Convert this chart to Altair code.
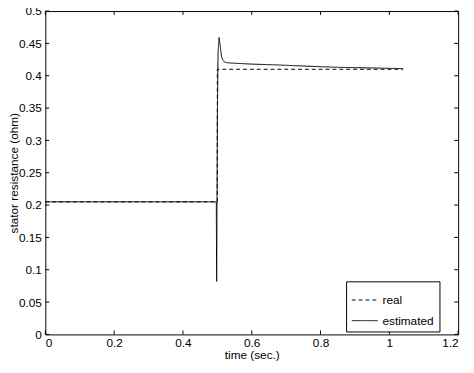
import altair as alt
import pandas as pd

# Data
real_t = [0.0, 0.5, 0.5, 1.04]
real_r = [0.205, 0.205, 0.41, 0.41]

est_t = [0.0, 0.497, 0.498, 0.499, 0.500, 0.502, 0.505, 0.508, 0.512, 0.516, 0.522,
         0.53, 0.56, 0.60, 0.66, 0.75, 0.85, 0.95, 1.04]
est_r = [0.205, 0.205, 0.082, 0.20, 0.33, 0.435, 0.459, 0.448, 0.43, 0.424, 0.421,
         0.420, 0.419, 0.418, 0.417, 0.415, 0.413, 0.412, 0.411]

x_ticks = [0, 0.2, 0.4, 0.6, 0.8, 1.0, 1.2]
y_ticks = [0, 0.05, 0.1, 0.15, 0.2, 0.25, 0.3, 0.35, 0.4, 0.45, 0.5]

rows = []
for i, (t, r) in enumerate(zip(real_t, real_r)):
    rows.append({"t": t, "r": r, "series": "real", "i": i})
for i, (t, r) in enumerate(zip(est_t, est_r)):
    rows.append({"t": t, "r": r, "series": "estimated", "i": i})
df = pd.DataFrame(rows)

W, H = 420, 329
FONT = "Liberation Sans"
TL = 4
TICK_COLOR = "black"

xs = alt.Scale(domain=[0, 1.2], nice=False, zero=False)
ys = alt.Scale(domain=[0, 0.5], nice=False, zero=False)

axis_common = dict(grid=False, ticks=False, domain=False, labelOverlap=False,
                   labelFont=FONT, titleFont=FONT, labelFontSize=12, titleFontSize=12,
                   titleFontWeight="normal", labelColor="black", titleColor="black")

x_axis = alt.Axis(values=x_ticks, title="time (sec.)", labelPadding=3, titlePadding=2,
                  labelExpr="datum.value == 0 ? '0' : format(datum.value, '.1~f')", **axis_common)
y_axis = alt.Axis(values=y_ticks, title="stator resistance (ohm)", labelPadding=4,
                  titleX=-32, titleY=H / 2, titleBaseline="middle", titleAngle=270,
                  labelExpr="datum.value == 0 ? '0' : format(datum.value, '.2~f')", **axis_common)

lines = alt.Chart(df).mark_line(color="black", strokeWidth=1).encode(
    x=alt.X("t:Q", scale=xs, axis=x_axis),
    y=alt.Y("r:Q", scale=ys, axis=y_axis),
    strokeDash=alt.StrokeDash("series:N",
        scale=alt.Scale(domain=["real", "estimated"], range=[[4, 3], [1, 0]]),
        legend=alt.Legend(title=None, orient="none", legendX=306, legendY=275,
                          strokeColor="black", fillColor="white", padding=5,
                          symbolType="stroke", symbolSize=700, symbolStrokeColor="black",
                          symbolStrokeWidth=1, labelFontSize=12, labelFont=FONT,
                          labelColor="black", rowPadding=1)),
    order="i:Q",
)

xt = pd.DataFrame({"t": x_ticks})
yt = pd.DataFrame({"r": y_ticks})

tick_b = alt.Chart(xt).mark_rule(color=TICK_COLOR, strokeWidth=1).encode(
    x=alt.X("t:Q", scale=xs, axis=x_axis), y=alt.value(H), y2=alt.value(H - TL))
tick_t = alt.Chart(xt).mark_rule(color=TICK_COLOR, strokeWidth=1).encode(
    x=alt.X("t:Q", scale=xs, axis=x_axis), y=alt.value(0), y2=alt.value(TL))
tick_l = alt.Chart(yt).mark_rule(color=TICK_COLOR, strokeWidth=1).encode(
    y=alt.Y("r:Q", scale=ys, axis=y_axis), x=alt.value(0), x2=alt.value(TL))
tick_r = alt.Chart(yt).mark_rule(color=TICK_COLOR, strokeWidth=1).encode(
    y=alt.Y("r:Q", scale=ys, axis=y_axis), x=alt.value(W), x2=alt.value(W - TL))

chart = alt.layer(lines, tick_b, tick_t, tick_l, tick_r).properties(
    width=W, height=H,
    background="white",
    autosize=alt.AutoSizeParams(type="none"),
    padding={"left": 38, "top": 0, "right": 8, "bottom": 28},
).configure_view(stroke="black", strokeWidth=1)

chart.save("out.html", embed_options={"renderer": "svg", "actions": False})
